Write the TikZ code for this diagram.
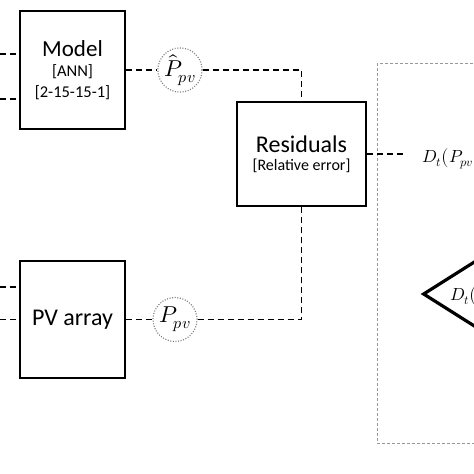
\documentclass[tikz,border=0pt]{standalone}
\usepackage{fontspec}
\usepackage{unicode-math}
\setmainfont{Carlito}
\setmathfont{Latin Modern Math}
\usetikzlibrary{shapes.geometric}
\begin{document}
\begin{tikzpicture}[x=1pt,y=-1pt,
  box/.style={draw, line width=1.6pt, inner sep=0pt},
  conn/.style={line width=1.5pt, dash pattern=on 6pt off 4pt},
  sig/.style={circle, draw=gray, line width=1.2pt, dash pattern=on 1pt off 1.6pt, minimum size=44pt, inner sep=0pt, font=\fontsize{23}{23}\selectfont},
  frame/.style={draw=gray!80, line width=0.9pt, dash pattern=on 3pt off 2pt},
  decision/.style={diamond, draw, line width=3.2pt, inner sep=0pt},
  mathlbl/.style={anchor=base west, inner sep=0pt, font=\fontsize{17.5}{17.5}\selectfont}
]
\useasboundingbox (0,0) rectangle (474,474);
\clip (0,0) rectangle (474,474);

% dotted frame
\draw[frame] (377,63) rectangle (520,443);

% boxes
\node[box, minimum width=105pt, minimum height=118pt] (model) at (72.5,70)
  {\parbox{100pt}{\centering\fontsize{23}{23}\selectfont Model\par
   \fontsize{16.5}{20.5}\selectfont [ANN]\par [2-15-15-1]\par}};
\node[box, minimum width=129pt, minimum height=104pt] (res) at (301.5,154)
  {\parbox{125pt}{\centering\fontsize{24}{24}\selectfont Residuals\par
   \fontsize{16}{18}\selectfont [Relative error]\par}};
\node[box, minimum width=105pt, minimum height=117pt, font=\fontsize{24}{24}\selectfont] (pv) at (72.5,319.5) {PV array};

% signals
\node[sig] (phat) at (180,70) {$\hat{P}_{pv}$};
\node[sig] (p) at (175,319.5) {$P_{pv}$};

% inputs
\coordinate (ina) at (0,54);
\coordinate (inb) at (0,99);
\coordinate (inc) at (0,287);
\coordinate (ind) at (0,319.5);
\draw[conn] (ina) -- (ina -| model.west);
\draw[conn] (inb) -- (inb -| model.west);
\draw[conn] (inc) -- (inc -| pv.west);
\draw[conn] (ind) -- (pv.west);

% connectors
\draw[conn] (model.east) -- (phat);
\draw[conn] (phat) -- (phat -| res.north) -- (res.north);
\draw[conn] (pv.east) -- (p);
\draw[conn] (p) -- (p -| res.south) -- (res.south);

\coordinate (dtend) at (405,154);
\draw[conn] (res.east) -- (dtend);
\node[mathlbl] (dt) at (422,162) {$D_t\big(P_{pv},\hat{P}_{pv}\big)$};

% decision
\node[decision, minimum width=300pt, minimum height=190pt] (dec) at (573,294) {};
\node[mathlbl] (dtd) at (450,300) {$D_t\big(P_{pv},\hat{P}_{pv}\big)$};
\end{tikzpicture}
\end{document}
